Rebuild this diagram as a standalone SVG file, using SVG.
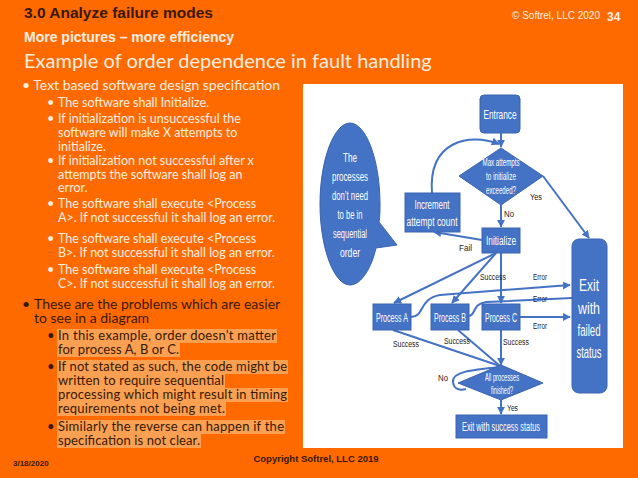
<svg xmlns="http://www.w3.org/2000/svg" width="638" height="478" viewBox="0 0 638 478">
<style>
.h{font-family:"Liberation Sans",Arial,sans-serif;font-weight:bold}
.b{font-family:Lato,"Open Sans",sans-serif}
.w{fill:#fdeee0}
.d{fill:#3a1800}
.n{fill:#4472c4;stroke:#3a64b0;stroke-width:1}
.nt{font-family:"Liberation Sans",sans-serif;fill:#fff;text-anchor:middle}
.c{fill:none;stroke:#4472c4;stroke-width:2}
.l{font-family:"Liberation Sans",sans-serif;font-size:8.5px;fill:#222}
.hl{fill:#f9a052}
</style>
<defs>
<marker id="a" viewBox="0 0 10 10" refX="9" refY="5" markerWidth="4" markerHeight="4" orient="auto"><path d="M0,0L10,5L0,10z" fill="#4472c4"/></marker>
</defs>
<rect width="638" height="478" fill="#fe6a00"/>
<text x="24" y="18" class="h d" font-size="15.5">3.0 Analyze failure modes</text>
<text x="600" y="19" class="w" font-family="Liberation Sans,sans-serif" font-size="10" text-anchor="end">© Softrel, LLC 2020</text>
<text x="607" y="21" class="h w" font-size="12">34</text>
<text x="24" y="42" class="h w" font-size="14">More pictures – more efficiency</text>
<text x="24" y="68" class="b w" font-size="20">Example of order dependence in fault handling</text>
<g class="b" font-size="13">
<text x="22" y="90" class="w" font-size="14">•  Text based software design specification</text>
<g class="w" font-size="12.5">
<text x="47" y="107">•<tspan x="58">The software shall Initialize.</tspan></text>
<text x="47" y="123">•<tspan x="58">If initialization is unsuccessful the</tspan></text>
<text x="58" y="137">software will make X attempts to</text>
<text x="58" y="151">initialize.</text>
<text x="47" y="165">•<tspan x="58">If initialization not successful after x</tspan></text>
<text x="58" y="179">attempts the software shall log an</text>
<text x="58" y="192">error.</text>
<text x="47" y="208">•<tspan x="58">The software shall execute &lt;Process</tspan></text>
<text x="58" y="222">A&gt;. If not successful it shall log an error.</text>
<text x="47" y="243">•<tspan x="58">The software shall execute &lt;Process</tspan></text>
<text x="58" y="257">B&gt;. If not successful it shall log an error.</text>
<text x="47" y="274">•<tspan x="58">The software shall execute &lt;Process</tspan></text>
<text x="58" y="288">C&gt;. If not successful it shall log an error.</text>
</g>
<g class="d" font-size="14">
<text x="22" y="309">•<tspan x="34">These are the problems which are easier</tspan></text>
<text x="34" y="323">to see in a diagram</text>
</g>
<rect class="hl" x="57" y="329" width="220" height="14"/>
<rect class="hl" x="57" y="343" width="123" height="14"/>
<rect class="hl" x="57" y="360" width="231" height="14"/>
<rect class="hl" x="57" y="374" width="168" height="14"/>
<rect class="hl" x="57" y="388" width="231" height="14"/>
<rect class="hl" x="57" y="402" width="169" height="14"/>
<rect class="hl" x="57" y="420" width="228" height="14"/>
<rect class="hl" x="57" y="434" width="144" height="14"/>
<g class="d" font-size="13">
<text x="47" y="340">•<tspan x="58" textLength="218">In this example, order doesn’t matter</tspan></text>
<text x="58" y="354" textLength="121">for process A, B or C.</text>
<text x="47" y="371">•<tspan x="58" textLength="229">If not stated as such, the code might be</tspan></text>
<text x="58" y="385" textLength="166">written to require sequential</text>
<text x="58" y="399" textLength="229">processing which might result in timing</text>
<text x="58" y="413" textLength="167">requirements not being met.</text>
<text x="47" y="431">•<tspan x="58" textLength="226">Similarly the reverse can happen if the</tspan></text>
<text x="58" y="445" textLength="142">specification is not clear.</text>
</g>
</g>
<text x="13" y="466" class="h d" font-size="8">3/18/2020</text>
<text x="316" y="462" class="h d" font-size="9.5" text-anchor="middle">Copyright Softrel, LLC 2019</text>
<rect x="303" y="84" width="320" height="364" fill="#fff"/>
<g id="connectors">
<path class="c" d="M501,133V147" marker-end="url(#a)"/>
<path class="c" d="M432,193C428,140 470,133 499,144" marker-end="url(#a)"/>
<path class="c" d="M482,240L434,232" marker-end="url(#a)"/>
<path class="c" d="M501,205V227" marker-end="url(#a)"/>
<path class="c" d="M543,176L589,238" marker-end="url(#a)"/>
<path class="c" d="M496,253L394,303" marker-end="url(#a)"/>
<path class="c" d="M496,253L452,303" marker-end="url(#a)"/>
<path class="c" d="M501,253V303" marker-end="url(#a)"/>
<path class="c" d="M411,317C425,317 418,299 440,295L570,285" marker-end="url(#a)"/>
<path class="c" d="M572,298L486,302C472,304 476,315 469,316"/>
<path class="c" d="M520,317H570" marker-end="url(#a)"/>
<path class="c" d="M393,330L500,366"/>
<path class="c" d="M458,330L500,366"/>
<path class="c" d="M501,330V365" marker-end="url(#a)"/>
<path class="c" d="M500,367C470,370 452,372 453,382C454,391 462,390 466,389"/>
<path class="c" d="M501,400V414" marker-end="url(#a)"/>
<text class="l" x="459" y="251" textLength="13" lengthAdjust="spacingAndGlyphs">Fail</text>
<text class="l" x="504" y="217" textLength="10" lengthAdjust="spacingAndGlyphs">No</text>
<text class="l" x="530" y="200" textLength="12" lengthAdjust="spacingAndGlyphs">Yes</text>
<text class="l" x="480" y="280" textLength="26" lengthAdjust="spacingAndGlyphs">Success</text>
<text class="l" x="533" y="280" textLength="14" lengthAdjust="spacingAndGlyphs">Error</text>
<text class="l" x="533" y="302" textLength="14" lengthAdjust="spacingAndGlyphs">Error</text>
<text class="l" x="533" y="329" textLength="14" lengthAdjust="spacingAndGlyphs">Error</text>
<text class="l" x="393" y="347" textLength="26" lengthAdjust="spacingAndGlyphs">Success</text>
<text class="l" x="444" y="344" textLength="26" lengthAdjust="spacingAndGlyphs">Success</text>
<text class="l" x="503" y="345" textLength="26" lengthAdjust="spacingAndGlyphs">Success</text>
<text class="l" x="438" y="381" textLength="10" lengthAdjust="spacingAndGlyphs">No</text>
<text class="l" x="507" y="411" textLength="11" lengthAdjust="spacingAndGlyphs">Yes</text>
</g>
<g id="bubble"><path class="n" d="M380,204C380,160 366,123 350,123C334,123 320,160 320,204C320,248 334,285 350,285C362,285 372,266 376,248L397,245L379,222C380,216 380,210 380,204Z"/>
<text class="nt" font-size="12.5"><tspan x="350" y="162" textLength="14" lengthAdjust="spacingAndGlyphs">The</tspan><tspan x="350" y="181" textLength="36" lengthAdjust="spacingAndGlyphs">processes</tspan><tspan x="350" y="200" textLength="36" lengthAdjust="spacingAndGlyphs">don’t need</tspan><tspan x="350" y="219" textLength="25" lengthAdjust="spacingAndGlyphs">to be in</tspan><tspan x="350" y="238" textLength="34" lengthAdjust="spacingAndGlyphs">sequential</tspan><tspan x="350" y="257" textLength="20" lengthAdjust="spacingAndGlyphs">order</tspan></text></g>
<g id="entrance"><rect class="n" x="480" y="95" width="40" height="38" rx="4"/><text class="nt" x="500" y="119" font-size="12" textLength="33" lengthAdjust="spacingAndGlyphs">Entrance</text></g>
<g id="maxattempts"><path class="n" d="M501,148L543,176L501,205L459,176Z"/><text class="nt" font-size="10"><tspan x="501" y="166" textLength="37" lengthAdjust="spacingAndGlyphs">Max attempts</tspan><tspan x="501" y="180" textLength="30" lengthAdjust="spacingAndGlyphs">to initialize</tspan><tspan x="501" y="194" textLength="30" lengthAdjust="spacingAndGlyphs">exceeded?</tspan></text></g>
<g id="increment"><rect class="n" x="405" y="193" width="55" height="39"/><text class="nt" font-size="12"><tspan x="432" y="209" textLength="35" lengthAdjust="spacingAndGlyphs">Increment</tspan><tspan x="432" y="226" textLength="51" lengthAdjust="spacingAndGlyphs">attempt count</tspan></text></g>
<g id="initialize"><rect class="n" x="482" y="228" width="38" height="25"/><text class="nt" x="501" y="245" font-size="12" textLength="30" lengthAdjust="spacingAndGlyphs">Initialize</text></g>
<g id="exitfail"><rect class="n" x="572" y="239" width="35" height="154" rx="7"/><text class="nt" font-size="16"><tspan x="589" y="291" textLength="20" lengthAdjust="spacingAndGlyphs">Exit</tspan><tspan x="589" y="314" textLength="22" lengthAdjust="spacingAndGlyphs">with</tspan><tspan x="589" y="336" textLength="23" lengthAdjust="spacingAndGlyphs">failed</tspan><tspan x="589" y="358" textLength="25" lengthAdjust="spacingAndGlyphs">status</tspan></text></g>
<g id="procA"><rect class="n" x="373" y="304" width="38" height="26"/><text class="nt" x="392" y="322" font-size="12" textLength="32" lengthAdjust="spacingAndGlyphs">Process A</text></g>
<g id="procB"><rect class="n" x="431" y="304" width="38" height="26"/><text class="nt" x="450" y="322" font-size="12" textLength="32" lengthAdjust="spacingAndGlyphs">Process B</text></g>
<g id="procC"><rect class="n" x="482" y="304" width="38" height="26"/><text class="nt" x="501" y="322" font-size="12" textLength="32" lengthAdjust="spacingAndGlyphs">Process C</text></g>
<g id="allfinished"><path class="n" d="M501,365L543,383L501,400L458,383Z"/><text class="nt" font-size="10"><tspan x="502" y="381" textLength="34" lengthAdjust="spacingAndGlyphs">All processes</tspan><tspan x="502" y="394" textLength="22" lengthAdjust="spacingAndGlyphs">finished?</tspan></text></g>
<g id="exitsuccess"><rect class="n" x="456" y="415" width="91" height="23"/><text class="nt" x="501" y="431" font-size="12" textLength="78" lengthAdjust="spacingAndGlyphs">Exit with success status</text></g>
</svg>
